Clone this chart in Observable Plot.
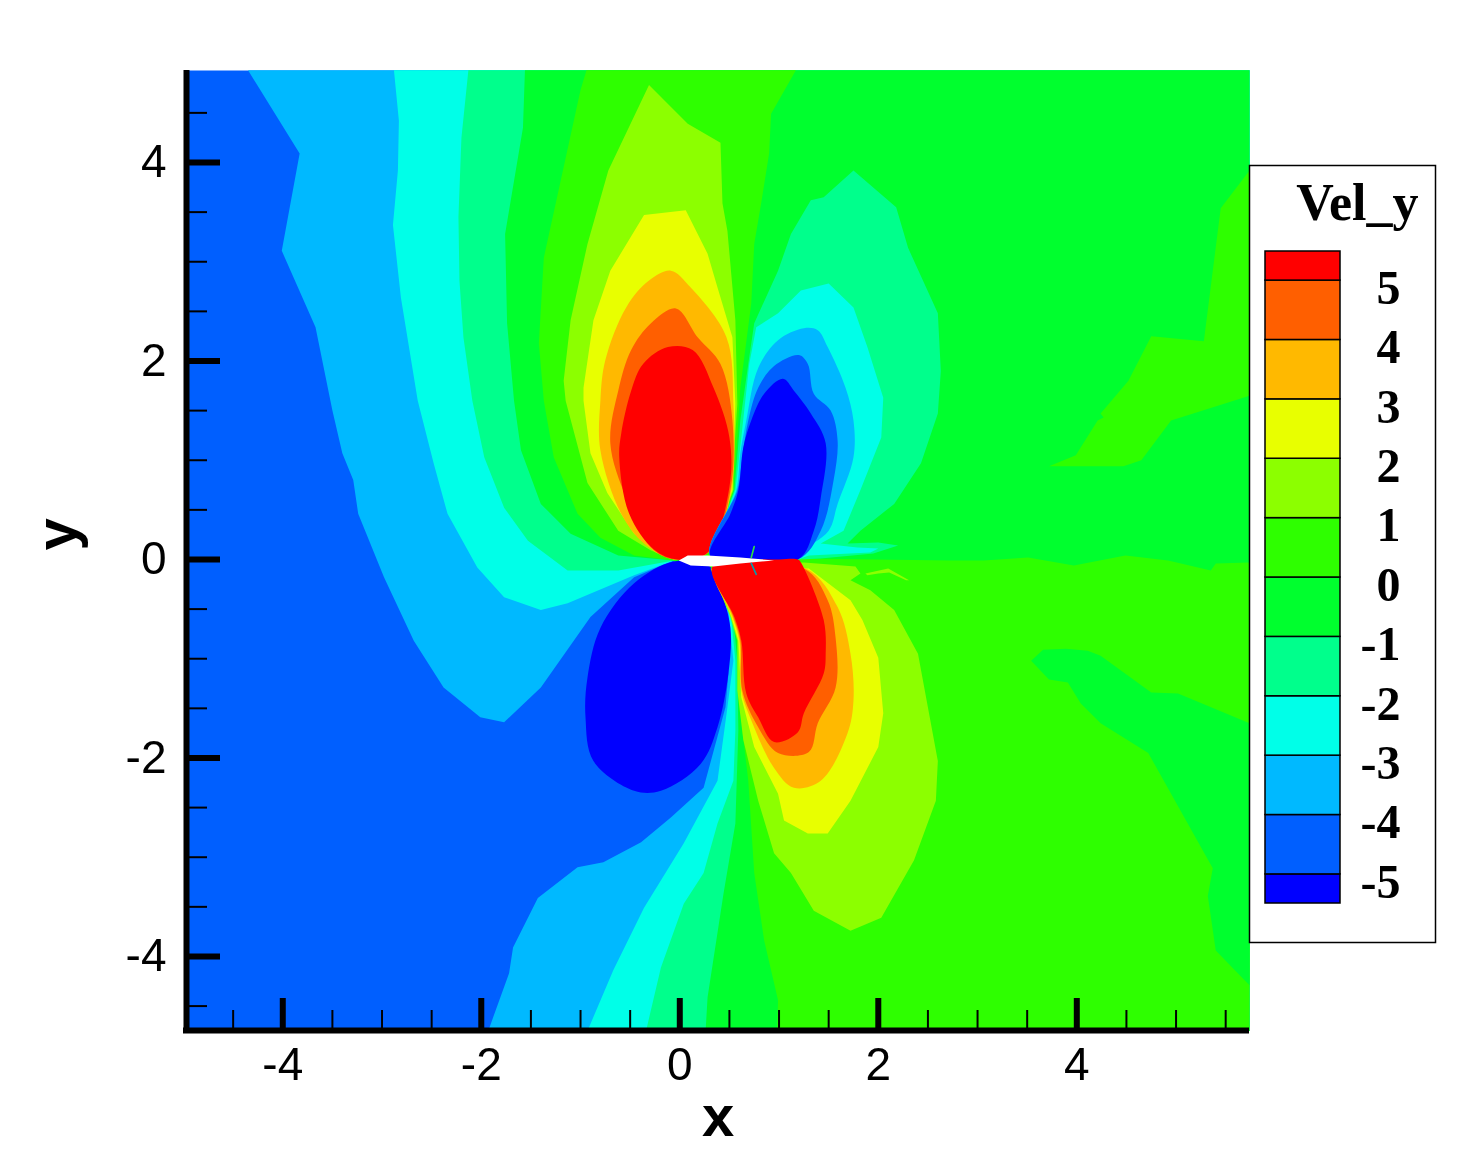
<!DOCTYPE html>
<html>
<head>
<meta charset="utf-8">
<script src="https://cdn.jsdelivr.net/npm/d3@7"></script>
<script src="https://cdn.jsdelivr.net/npm/@observablehq/plot@0.6"></script>
<style>
html,body{margin:0;padding:0;background:#fff;}
#chart{position:relative;width:1470px;height:1175px;overflow:hidden;}
#chart svg{display:block;filter:blur(0.7px);}
#legend{position:absolute;left:1247px;top:163px;}
</style>
</head>
<body>
<div id="chart"><div id="main"></div><div id="legend"></div></div>
<script>
const xDomain = [-4.97, 5.74];
const yDomain = [-4.746, 4.927];
const xMajor = [-4, -2, 0, 2, 4];
const yMajor = [-4, -2, 0, 2, 4];
const xMinor = [-4.5,-3.5,-3,-2.5,-1.5,-1,-0.5,0.5,1,1.5,2.5,3,3.5,4.5,5,5.5];
const yMinor = [-4.5,-3.5,-3,-2.5,-1.5,-1,-0.5,0.5,1,1.5,2.5,3,3.5,4.5];

const levelTicks = [5,4,3,2,1,0,-1,-2,-3,-4,-5];
const bandColors = ["#0000ff","#005fff","#00b9ff","#00ffe8","#00ff8c","#00ff2e","#2eff00","#8cff00","#e8ff00","#ffb900","#ff5f00","#ff0000"];
const bandLow  = [-5.49,-5,-4,-3,-2,-1,0,1,2,3,4,5];
const bandHigh = [-5,-4,-3,-2,-1,0,1,2,3,4,5,5.49];

// Contour regions of Vel_y in x / y data units.
const regionAbove4 = [[-4.35,4.93],[-3.83,4.09],[-4.01,3.11],[-3.67,2.34],[-3.50,1.50],[-3.40,1.07],[-3.29,0.80],[-3.24,0.46],[-2.98,-0.18],[-2.68,-0.82],[-2.38,-1.29],[-2.01,-1.59],[-1.77,-1.64],[-1.40,-1.29],[-0.90,-0.58],[-0.46,-0.18],[-0.06,-0.01],[0.46,-0.41],[0.49,-1.15],[0.46,-1.49],[0.24,-2.30],[-0.09,-2.60],[-0.39,-2.85],[-0.77,-3.05],[-1.03,-3.10],[-1.43,-3.41],[-1.68,-3.91],[-1.72,-4.17],[-1.93,-4.75],[5.74,-4.75],[5.74,4.93]];
const regionAbove3 = [[-2.88,4.93],[-2.83,4.42],[-2.84,3.92],[-2.89,3.37],[-2.81,2.64],[-2.64,1.60],[-2.48,0.97],[-2.34,0.46],[-2.04,-0.08],[-1.77,-0.38],[-1.40,-0.51],[-1.13,-0.44],[-0.46,-0.16],[-0.06,-0.01],[0.49,-0.51],[0.54,-1.02],[0.48,-1.49],[0.38,-2.23],[0.04,-2.86],[-0.36,-3.51],[-0.67,-4.14],[-0.93,-4.75],[5.74,-4.75],[5.74,4.93]];
const regionAbove2 = [[-2.13,4.93],[-2.20,4.25],[-2.23,3.45],[-2.22,2.81],[-2.18,2.24],[-2.09,1.60],[-1.97,1.03],[-1.77,0.52],[-1.53,0.19],[-1.13,-0.11],[-0.62,-0.11],[-0.06,-0.01],[0.51,-0.51],[0.56,-1.02],[0.56,-1.72],[0.54,-2.23],[0.38,-2.66],[0.24,-3.16],[0.04,-3.47],[-0.19,-4.11],[-0.34,-4.75],[5.74,-4.75],[5.74,4.93]];
const regionAbove1 = [[-1.56,4.93],[-1.58,4.35],[-1.76,3.28],[-1.74,2.38],[-1.67,1.60],[-1.60,1.10],[-1.40,0.56],[-1.10,0.26],[-0.62,0.04],[-0.06,-0.01],[0.53,-0.51],[0.58,-1.02],[0.59,-1.72],[0.56,-2.66],[0.44,-3.37],[0.28,-4.41],[0.26,-4.75],[5.74,-4.75],[5.74,4.93]];
const regionZero = [[-0.94,4.93],[1.17,4.93],[0.92,4.49],[0.90,4.09],[0.82,3.59],[0.75,3.18],[0.72,2.58],[0.61,1.73],[0.58,1.23],[0.54,0.70],[0.46,0.39],[0.36,0.14],[1.22,0.01],[2.73,-0.01],[3.06,-0.01],[3.51,0.02],[3.97,-0.06],[4.49,0.04],[4.92,-0.01],[5.35,-0.11],[5.40,-0.04],[5.74,-0.03],[5.74,-4.75],[0.98,-4.75],[0.99,-4.44],[0.85,-3.84],[0.75,-3.16],[0.69,-2.23],[0.63,-1.72],[0.60,-1.02],[0.55,-0.51],[0.21,-0.01],[-0.06,-0.01],[-0.46,0.04],[-0.80,0.22],[-1.03,0.46],[-1.27,1.03],[-1.37,1.60],[-1.42,2.18],[-1.37,3.04],[-1.00,4.73]];
const farfieldUpper = [[3.72,0.94],[3.99,1.05],[4.21,1.40],[4.27,1.43],[4.24,1.47],[4.52,1.80],[4.75,2.25],[5.28,2.20],[5.45,3.54],[5.74,3.92],[5.74,1.65],[4.95,1.40],[4.65,1.00],[4.47,0.94]];
const farfieldLower = [[3.54,-1.02],[3.66,-0.91],[3.89,-0.90],[4.11,-0.92],[4.24,-0.97],[4.75,-1.34],[5.02,-1.35],[5.74,-1.65],[5.74,-4.29],[5.40,-3.94],[5.32,-3.39],[5.37,-3.11],[4.72,-1.95],[4.24,-1.65],[4.04,-1.45],[3.91,-1.24],[3.72,-1.21]];

const upperPos1 = [[-0.31,4.78],[0.08,4.39],[0.41,4.20],[0.43,3.59],[0.48,3.31],[0.56,2.41],[0.58,1.57],[0.54,0.97],[0.54,0.70],[0.31,0.09],[-0.06,0],[-0.29,0.09],[-0.62,0.29],[-0.93,0.77],[-1.15,1.60],[-1.17,1.80],[-1.10,2.41],[-0.93,3.18],[-0.72,3.92]];
const upperPos2 = [[0.06,3.52],[-0.36,3.47],[-0.70,2.91],[-0.87,2.41],[-0.97,1.73],[-0.97,1.60],[-0.90,1.07],[-0.73,0.67],[-0.46,0.26],[-0.24,0.07],[-0.06,0],[0.31,0.08],[0.53,0.70],[0.56,1.57],[0.53,2.24],[0.38,2.74],[0.28,3.08]];
const upperPos3 = [[-0.09,2.91],[-0.31,2.81],[-0.54,2.54],[-0.75,2.01],[-0.80,1.60],[-0.80,1.10],[-0.59,0.46],[-0.36,0.16],[-0.06,0],[0.30,0.08],[0.52,0.70],[0.54,1.57],[0.47,2.24],[0.11,2.74]];
const upperPos4 = [[-0.04,2.53],[-0.29,2.38],[-0.49,2.11],[-0.62,1.70],[-0.70,1.17],[-0.54,0.62],[-0.29,0.12],[-0.06,0],[0.29,0.07],[0.51,0.70],[0.53,1.40],[0.41,1.97],[0.18,2.24]];
const upperPos5 = [[-0.12,2.14],[-0.37,1.97],[-0.49,1.70],[-0.59,1.27],[-0.61,1.03],[-0.51,0.46],[-0.26,0.10],[-0.02,0],[0.28,0.07],[0.50,0.73],[0.50,1.23],[0.34,1.73],[0.13,2.11]];

const upperNeg1 = [[1.75,3.92],[2.18,3.55],[2.30,3.14],[2.60,2.48],[2.63,1.90],[2.60,1.47],[2.43,0.97],[2.16,0.56],[1.82,0.29],[1.69,0.16],[2.00,0.17],[2.20,0.14],[1.95,0.06],[1.42,0.01],[1.19,0],[0.31,0.03],[0.55,0.70],[0.61,1.40],[0.69,1.97],[0.75,2.38],[0.99,2.91],[1.12,3.28],[1.32,3.62],[1.45,3.65]];
const upperNeg2 = [[1.50,2.78],[1.75,2.54],[1.89,2.14],[2.05,1.63],[2.03,1.23],[1.82,0.70],[1.65,0.29],[1.42,0.16],[1.79,0.12],[2.00,0.11],[1.92,0.07],[1.30,0.04],[1.19,0],[0.31,0.03],[0.56,0.70],[0.62,1.23],[0.70,1.97],[0.77,2.34],[0.99,2.48],[1.22,2.71]];
const upperNeg3 = [[1.39,2.31],[1.25,2.33],[0.99,2.21],[0.79,1.93],[0.67,1.40],[0.61,1.07],[0.57,0.70],[0.31,0.03],[1.19,0],[1.22,0.07],[1.50,0.29],[1.59,0.56],[1.75,1.03],[1.75,1.40],[1.67,1.73],[1.49,2.14]];
const upperNeg4 = [[1.20,2.06],[0.95,1.95],[0.79,1.73],[0.69,1.40],[0.63,1.03],[0.58,0.70],[0.31,0.03],[1.19,0],[1.42,0.29],[1.55,0.80],[1.59,1.20],[1.52,1.50],[1.35,1.67],[1.29,1.97]];
const upperNeg5 = [[1.04,1.82],[0.85,1.67],[0.72,1.40],[0.64,1.13],[0.59,0.70],[0.51,0.46],[0.31,0.03],[1.19,0],[1.35,0.29],[1.42,0.62],[1.47,1.17],[1.32,1.47],[1.15,1.70]];

const lowerNeg5 = [[-0.06,-0.02],[0.29,-0.06],[0.41,-0.31],[0.51,-0.69],[0.49,-1.15],[0.38,-1.69],[0.21,-2.06],[-0.19,-2.33],[-0.46,-2.33],[-0.87,-2.03],[-0.95,-1.59],[-0.93,-1.19],[-0.80,-0.69],[-0.46,-0.24]];

const lowerPos1 = [[0.31,-0.09],[1.25,-0.03],[1.77,-0.07],[1.82,-0.14],[1.72,-0.21],[1.92,-0.31],[2.16,-0.51],[2.40,-0.95],[2.60,-2.03],[2.58,-2.43],[2.36,-3.03],[2.03,-3.61],[1.72,-3.74],[1.35,-3.54],[1.12,-3.16],[0.95,-2.96],[0.79,-2.43],[0.64,-1.82],[0.58,-1.32],[0.58,-0.82],[0.51,-0.58]];
const wakeStreak = [[1.87,-0.14],[2.10,-0.09],[2.31,-0.21],[2.28,-0.21],[2.11,-0.13],[2.00,-0.14],[1.89,-0.16]];
const lowerPos2 = [[0.33,-0.09],[1.30,-0.09],[1.72,-0.41],[1.84,-0.61],[2.00,-0.99],[2.05,-1.55],[2.00,-1.89],[1.72,-2.43],[1.49,-2.76],[1.29,-2.76],[1.05,-2.63],[0.99,-2.36],[0.75,-1.89],[0.62,-1.39],[0.59,-0.82],[0.52,-0.58]];
const lowerPos3 = [[0.35,-0.09],[1.27,-0.09],[1.59,-0.48],[1.72,-0.95],[1.75,-1.42],[1.69,-1.75],[1.42,-2.23],[1.15,-2.30],[0.95,-2.10],[0.72,-1.62],[0.62,-1.32],[0.60,-0.82],[0.53,-0.58]];
const lowerPos4 = [[0.37,-0.09],[1.25,-0.09],[1.49,-0.41],[1.57,-0.79],[1.57,-1.29],[1.39,-1.65],[1.30,-1.94],[0.99,-1.95],[0.79,-1.69],[0.63,-1.32],[0.61,-0.82],[0.54,-0.58]];
const lowerPos5 = [[0.33,-0.07],[1.00,0],[1.19,0],[1.22,-0.03],[1.45,-0.61],[1.47,-0.95],[1.45,-1.15],[1.25,-1.55],[1.19,-1.74],[0.95,-1.84],[0.79,-1.59],[0.67,-1.35],[0.62,-0.82],[0.55,-0.58]];

const airfoil = [[-0.01,-0.01],[0.08,0.04],[0.28,0.04],[0.61,0.02],[0.95,-0.01],[0.61,-0.04],[0.34,-0.07],[0.11,-0.06]];
const spikeUpper = [[0.75,0.13],[0.72,0.02]];
const spikeLower = [[0.72,-0.04],[0.77,-0.15]];
const base = [[xDomain[0],yDomain[0]],[xDomain[1],yDomain[0]],[xDomain[1],yDomain[1]],[xDomain[0],yDomain[1]]];

const c = {m5:"#0000ff",m4:"#005fff",m3:"#00b9ff",m2:"#00ffe8",m1:"#00ff8c",z0:"#00ff2e",p0:"#2eff00",p1:"#8cff00",p2:"#e8ff00",p3:"#ffb900",p4:"#ff5f00",p5:"#ff0000"};
const layers = [
  [base,c.m4],[regionAbove4,c.m3],[regionAbove3,c.m2],[regionAbove2,c.m1],[regionAbove1,c.z0],
  [regionZero,c.p0],[farfieldUpper,c.p0],[farfieldLower,c.z0],
  [upperPos1,c.p1],[upperPos2,c.p2],[upperPos3,c.p3],[upperPos4,c.p4],[upperPos5,c.p5],
  [upperNeg1,c.m1],[upperNeg2,c.m2],[upperNeg3,c.m3],[upperNeg4,c.m4],[upperNeg5,c.m5],
  [lowerNeg5,c.m5],
  [lowerPos1,c.p1],[wakeStreak,c.p1],[lowerPos2,c.p2],[lowerPos3,c.p3],[lowerPos4,c.p4],[lowerPos5,c.p5],
  [airfoil,"#ffffff"]
];
const smooth = new Set([upperPos3,upperPos4,upperPos5,upperNeg3,upperNeg4,upperNeg5,lowerNeg5,lowerPos3,lowerPos4,lowerPos5]);
const px = d => d[0], py = d => d[1];

const main = Plot.plot({
  width: 1470, height: 1175,
  marginLeft: 186, marginRight: 221, marginTop: 70, marginBottom: 145,
  style: {fontFamily: "'Liberation Sans', Arial, sans-serif", background: "white", color: "#000"},
  x: {domain: xDomain, axis: null},
  y: {domain: yDomain, axis: null},
  marks: [
    ...layers.map(([pts, col]) => Plot.line(pts, {x: px, y: py, fill: col, stroke: "none", curve: smooth.has(pts) ? "catmull-rom-closed" : "linear"})),
    Plot.line(spikeUpper, {x: px, y: py, stroke: "#30e040", strokeWidth: 1.6}),
    Plot.line(spikeLower, {x: px, y: py, stroke: "#00a0b0", strokeWidth: 1.6}),
    Plot.tickX(xMinor, {x: d => d, insetTop: 940, stroke: "#000", strokeWidth: 2}),
    Plot.tickX(xMajor, {x: d => d, insetTop: 928, stroke: "#000", strokeWidth: 6}),
    Plot.tickY(yMinor, {y: d => d, insetRight: 1042, stroke: "#000", strokeWidth: 2}),
    Plot.tickY(yMajor, {y: d => d, insetRight: 1029, stroke: "#000", strokeWidth: 6}),
    Plot.ruleX([xDomain[0]], {stroke: "#000", strokeWidth: 6, insetBottom: -3}),
    Plot.ruleY([yDomain[0]], {stroke: "#000", strokeWidth: 6, insetLeft: -3}),
    Plot.axisX(xMajor, {anchor: "bottom", tickSize: 0, tickPadding: 17, fontSize: 46, label: null, tickFormat: d => String(d)}),
    Plot.axisY(yMajor, {anchor: "left", tickSize: 0, tickPadding: 20, fontSize: 46, label: null, tickFormat: d => String(d)}),
    Plot.text(["x"], {frameAnchor: "bottom", dy: 105, text: d => d, fontSize: 58, fontWeight: "bold"}),
    Plot.text(["y"], {frameAnchor: "left", dx: -129, rotate: -90, text: d => d, fontSize: 58, fontWeight: "bold"})
  ]
});
document.getElementById("main").appendChild(main);

const legendFont = "'Liberation Serif', 'Times New Roman', serif";
const legendBands = bandColors.map((color, i) => ({color, lo: bandLow[i], hi: bandHigh[i]}));
const legend = Plot.plot({
  width: 190, height: 781,
  marginLeft: 18, marginRight: 97, marginTop: 88, marginBottom: 41,
  style: {fontFamily: legendFont, background: "transparent", color: "#000"},
  x: {domain: [0, 1], axis: null},
  y: {domain: [-5.49, 5.49], axis: null},
  marks: [
    Plot.frame({fill: "#fff", stroke: "#000", strokeWidth: 1.5, insetLeft: -16, insetRight: -95, insetTop: -86, insetBottom: -39}),
    Plot.rect(legendBands, {x1: () => 0, x2: () => 1, y1: "lo", y2: "hi", fill: d => d.color, stroke: "#000", strokeWidth: 1.5}),
    Plot.text(levelTicks, {x: () => 1, y: d => d, text: d => String(d), dx: 60, dy: 8, textAnchor: "end", fontSize: 48, fontWeight: "bold"}),
    Plot.text(["Vel_y"], {frameAnchor: "top-right", dx: 78, dy: -68, text: d => d, textAnchor: "end", fontSize: 52, fontWeight: "bold"})
  ]
});
document.getElementById("legend").appendChild(legend);
</script>
</body>
</html>
